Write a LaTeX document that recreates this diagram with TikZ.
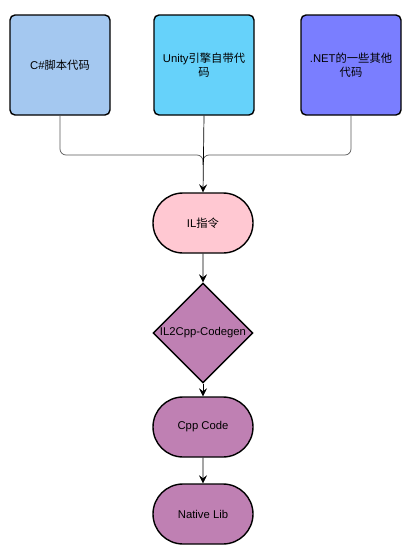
\documentclass[tikz,border=0pt]{standalone}
\usepackage{fontspec}
\setmainfont{Liberation Sans}
\newfontfamily\cjk{Noto Sans CJK SC}
\usetikzlibrary{arrows.meta,shapes.geometric,shapes.misc}
\definecolor{srcblue}{HTML}{A4C8F0}
\definecolor{unityblue}{HTML}{66D2FA}
\definecolor{netblue}{HTML}{7A7EFF}
\definecolor{ilpink}{HTML}{FFC8D2}
\definecolor{stagepurple}{HTML}{BF80B3}
\tikzset{
  srcbox/.style={draw=black, line width=1.4pt, rounded corners=5pt,
    minimum width=100pt, minimum height=100pt, align=center,
    font=\fontsize{11.3pt}{14pt}\selectfont},
  stage/.style={draw=black, line width=1.4pt, rounded rectangle,
    minimum width=100pt, minimum height=60pt, inner sep=0pt,
    font=\fontsize{11.3pt}{14pt}\selectfont},
  flow/.style={-{Stealth[length=8pt,width=8pt,inset=3pt]}, line width=0.7pt},
  side/.style={draw=black!65, line width=0.7pt, rounded corners=6pt}
}
\begin{document}
\begin{tikzpicture}[x=1pt,y=-1pt]
  \useasboundingbox (0,0) rectangle (416,557);
  \node[srcbox, fill=srcblue] (csharp) at (60,65) {C\#{\cjk 脚本代码}};
  \node[srcbox, fill=unityblue] (unity) at (204,65) {Unity{\cjk 引擎自带代}\\{\cjk 码}};
  \node[srcbox, fill=netblue] (dotnet) at (351,65) {.NET{\cjk 的一些其他}\\{\cjk 代码}};
  \node[stage, fill=ilpink] (il) at (203,223) {IL{\cjk 指令}};
  \node[draw=black, line width=1.4pt, diamond, fill=stagepurple,
    minimum width=100pt, minimum height=100pt, inner sep=0pt,
    label={[font=\fontsize{11.3pt}{14pt}\selectfont]center:IL2Cpp-Codegen}] (codegen) at (203,333) {};
  \node[stage, fill=stagepurple] (cpp) at (203,427) {Cpp Code};
  \node[stage, fill=stagepurple] (native) at (203,514) {Native Lib};
  % merge of the three sources
  \coordinate (merge) at (203,155);
  \draw[side] (csharp.south) |- (merge) -- ([yshift=-10pt]merge);
  \draw[side] (dotnet.south) |- (merge) -- ([yshift=-10pt]merge);
  \draw[flow] (unity.south) -- (il.north);
  \draw[flow] (il) -- (codegen);
  \draw[flow] (codegen) -- (cpp);
  \draw[flow] (cpp) -- (native);
\end{tikzpicture}
\end{document}
